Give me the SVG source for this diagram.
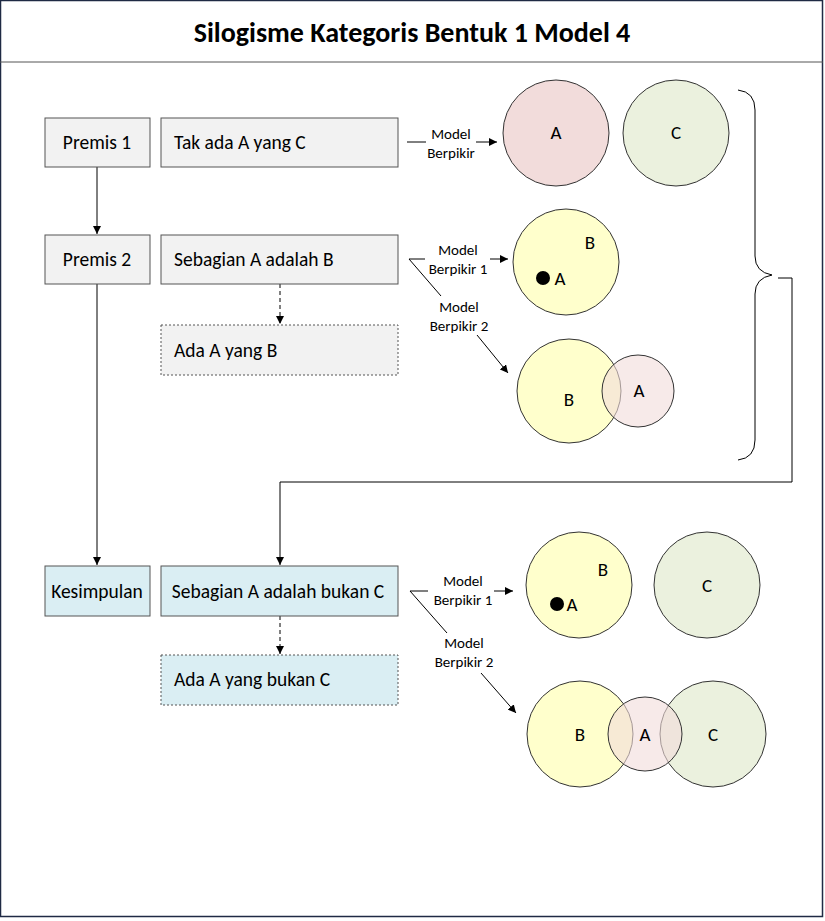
<svg xmlns="http://www.w3.org/2000/svg" width="825" height="921" viewBox="0 0 825 921">
<style>
text{font-family:Calibri,Carlito,"Liberation Sans",sans-serif;fill:#000}
.bx{stroke:#555;stroke-width:1}
.g{fill:#f2f2f2}.b{fill:#daeef3}
.dot{stroke-dasharray:2,2}
.t{font-size:19.5px}
.s{font-size:15px;text-anchor:middle}
.c{stroke:#333;stroke-width:1}
.l{font-size:19px;text-anchor:middle}
.ln{stroke:#000;fill:none;stroke-width:1}
</style>
<defs><marker id="ar" viewBox="0 0 10 10" refX="10" refY="5" markerWidth="8" markerHeight="8" orient="auto"><path d="M0,0L10,5L0,10z" fill="#000"/></marker></defs>
<rect x="0.5" y="0.5" width="822" height="916" fill="#fff" stroke="#1f2a44" stroke-width="1.5"/>
<line x1="0" y1="62" x2="823" y2="62" stroke="#555"/>
<text x="412" y="42" text-anchor="middle" font-size="28" font-weight="bold">Silogisme Kategoris Bentuk 1 Model 4</text>
<g id="connectors">
<line class="ln" x1="97" y1="167" x2="97" y2="234" marker-end="url(#ar)"/>
<line class="ln" x1="97" y1="284" x2="97" y2="565" marker-end="url(#ar)"/>
<line class="ln" x1="280" y1="284" x2="280" y2="324" stroke-dasharray="4,3" stroke="#666" marker-end="url(#ar)"/>
<line class="ln" x1="280" y1="616" x2="280" y2="654" stroke-dasharray="4,3" stroke="#666" marker-end="url(#ar)"/>
<path class="ln" d="M738,90 Q755,92 755,110 L755,256 Q755,272 772,275 Q755,278 755,294 L755,440 Q755,458 738,460"/>
<path class="ln" d="M778,278 L792,278 L792,482 L280,482 L280,565" marker-end="url(#ar)"/>
<line class="ln" x1="407" y1="142" x2="497" y2="142" marker-end="url(#ar)"/>
<path class="ln" d="M409,259 L425,259 M490,259 L508,259" marker-end="url(#ar)"/>
<line class="ln" x1="409" y1="259" x2="441" y2="296"/>
<line class="ln" x1="477" y1="335" x2="508" y2="373" marker-end="url(#ar)"/>
<path class="ln" d="M410,591 L428,591 M494,591 L513,591" marker-end="url(#ar)"/>
<line class="ln" x1="410" y1="591" x2="447" y2="633"/>
<line class="ln" x1="481" y1="673" x2="516" y2="713" marker-end="url(#ar)"/>
</g>
<rect x="426" y="124" width="50" height="36" fill="#fff"/>
<text class="s" x="451" y="139">Model</text>
<text class="s" x="451" y="158">Berpikir</text>
<text class="s" x="458" y="255">Model</text>
<text class="s" x="458" y="274">Berpikir 1</text>
<text class="s" x="459" y="312">Model</text>
<text class="s" x="459" y="331">Berpikir 2</text>
<text class="s" x="463" y="586">Model</text>
<text class="s" x="463" y="605">Berpikir 1</text>
<text class="s" x="464" y="648">Model</text>
<text class="s" x="464" y="667">Berpikir 2</text>
<g id="premis1"><rect class="bx g" x="45" y="118" width="105" height="49"/><text class="t" x="97" y="149" text-anchor="middle">Premis 1</text></g>
<g id="p1text"><rect class="bx g" x="161" y="118" width="237" height="49"/><text class="t" x="174" y="149">Tak ada A yang C</text></g>
<g id="premis2"><rect class="bx g" x="45" y="235" width="105" height="49"/><text class="t" x="97" y="266" text-anchor="middle">Premis 2</text></g>
<g id="p2text"><rect class="bx g" x="161" y="235" width="237" height="49"/><text class="t" x="174" y="266">Sebagian A adalah B</text></g>
<g id="p2alt"><rect class="bx g dot" x="161" y="325" width="237" height="50"/><text class="t" x="174" y="357">Ada A yang B</text></g>
<g id="kesimpulan"><rect class="bx b" x="45" y="566" width="105" height="50"/><text class="t" x="97" y="598" text-anchor="middle">Kesimpulan</text></g>
<g id="ktext"><rect class="bx b" x="161" y="566" width="237" height="50"/><text class="t" x="278" y="598" text-anchor="middle">Sebagian A adalah bukan C</text></g>
<g id="kalt"><rect class="bx b dot" x="161" y="655" width="237" height="50"/><text class="t" x="174" y="686">Ada A yang bukan C</text></g>
<g id="venn1">
<circle class="c" cx="556" cy="133" r="53" fill="#f2dcdb"/><text class="l" x="556" y="139">A</text>
<circle class="c" cx="676" cy="133" r="53" fill="#ebf1de"/><text class="l" x="676" y="139">C</text>
</g>
<g id="venn2">
<circle class="c" cx="566" cy="262" r="53" fill="#ffffcc"/>
<text class="l" x="590" y="249">B</text>
<circle cx="543" cy="278" r="7" fill="#000"/><text class="l" x="560" y="285">A</text>
</g>
<g id="venn3">
<circle class="c" cx="569" cy="391" r="52" fill="#ffffcc"/>
<circle class="c" cx="638" cy="391" r="36" fill="#f2dcdb" fill-opacity="0.6"/>
<text class="l" x="569" y="406">B</text><text class="l" x="639" y="397">A</text>
</g>
<g id="venn4">
<circle class="c" cx="579" cy="585" r="53" fill="#ffffcc"/>
<text class="l" x="603" y="576">B</text>
<circle cx="557" cy="604" r="7" fill="#000"/><text class="l" x="572" y="611">A</text>
<circle class="c" cx="707" cy="585" r="53" fill="#ebf1de"/><text class="l" x="707" y="592">C</text>
</g>
<g id="venn5">
<circle class="c" cx="580" cy="734" r="53" fill="#ffffcc"/>
<circle class="c" cx="713" cy="734" r="53" fill="#ebf1de"/>
<circle class="c" cx="645" cy="734" r="37" fill="#f2dcdb" fill-opacity="0.6"/>
<text class="l" x="580" y="741">B</text><text class="l" x="645" y="741">A</text><text class="l" x="713" y="741">C</text>
</g>
</svg>
